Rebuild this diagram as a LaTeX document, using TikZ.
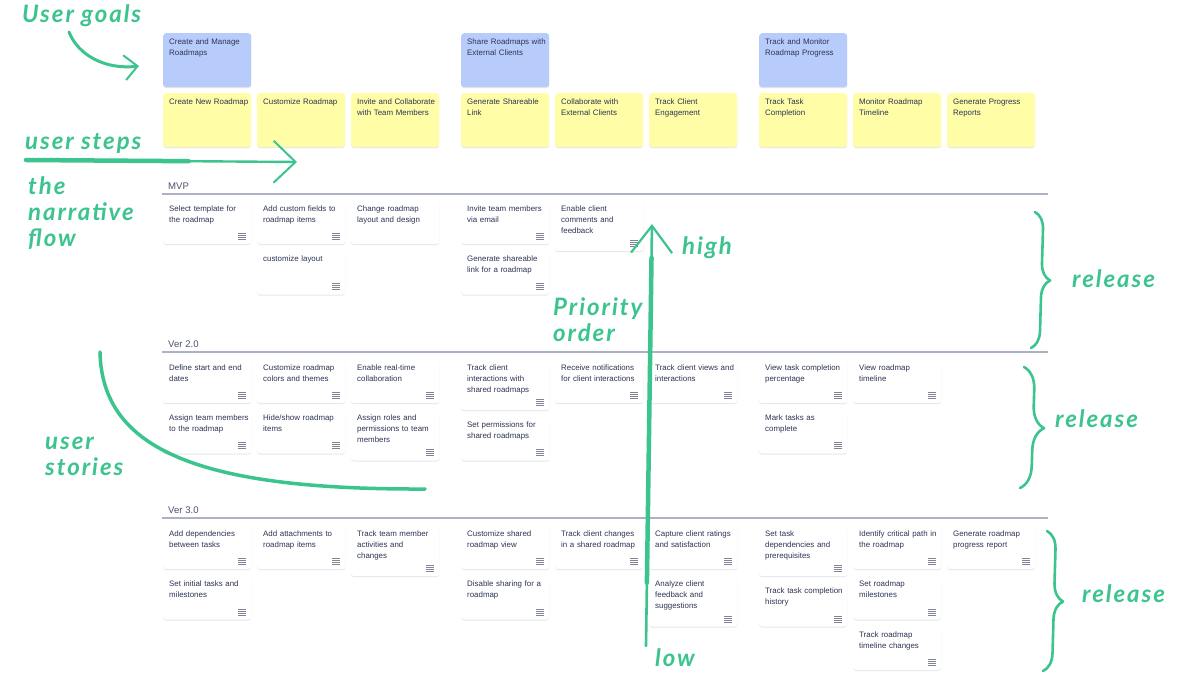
\documentclass[tikz,border=0pt]{standalone}
\usepackage{fontspec}
\setmainfont{Liberation Sans}
\newfontfamily\handfont{Lato}[LetterSpace=8]
\usetikzlibrary{arrows.meta, positioning, shadows, decorations.pathreplacing, calc}

\definecolor{inkblue}{RGB}{46,52,84}
\definecolor{goalblue}{RGB}{183,204,250}
\definecolor{stepyellow}{RGB}{255,253,166}
\definecolor{rulegray}{RGB}{172,177,198}
\definecolor{icongray}{RGB}{128,133,150}
\definecolor{markgreen}{RGB}{60,196,142}

\tikzset{
  card/.style={fill=white, rounded corners=3pt, anchor=north west,
    text width=84pt, inner xsep=2pt, inner ysep=4pt,
    execute at begin node={\leftskip=4pt\rightskip=0pt plus 1fil\parindent=0pt\relax},
    text height=7.3pt, text depth=28.7pt, text=inkblue,
    font=\fontsize{7.9}{11}\selectfont,
    drop shadow={shadow xshift=0pt, shadow yshift=-1pt, fill=rulegray, opacity=0.3}},
  card3/.style={card, text depth=35.7pt},
  goalcard/.style={card, fill=goalblue, text depth=38.7pt},
  stepcard/.style={card, fill=stepyellow, text depth=38.7pt},
  relline/.style={draw=rulegray, line width=1.1pt},
  rellabel/.style={anchor=base west, inner sep=0pt, text=inkblue!85,
    font=\fontsize{9.6}{11}\selectfont},
  menuline/.style={draw=icongray, line width=0.6pt},
  hand/.style={draw=markgreen, line width=3pt, line cap=round, line join=round},
  handtext/.style={anchor=base west, inner sep=0pt, text=markgreen,
    font=\handfont\bfseries\itshape\fontsize{24}{26}\selectfont},
  relbrace/.style={hand, line width=2.6pt, decorate, decoration={brace, amplitude=#1}}
}

\begin{document}
\begin{tikzpicture}[x=1pt, y=-1pt]
  \useasboundingbox (0,0) rectangle (1200,700);
  \fill[white] (0,0) rectangle (1200,700);

  % user goals
  \node[goalcard] (g1) at (163,33) {Create and Manage\\Roadmaps};
  \node[goalcard] (g4) at (461,33) {Share Roadmaps with\\External Clients};
  \node[goalcard] (g7) at (759,33) {Track and Monitor\\Roadmap Progress};

  % user steps
  \foreach \i/\txt in {1/{Create New Roadmap}, 2/{Customize Roadmap},
      3/{Invite and Collaborate\\with Team Members}, 4/{Generate Shareable\\Link},
      5/{Collaborate with\\External Clients}, 6/{Track Client\\Engagement},
      7/{Track Task\\Completion}, 8/{Monitor Roadmap\\Timeline},
      9/{Generate Progress\\Reports}}{
    \node[stepcard] (s\i) at ({163+94*(\i-1)+16*int((\i-1)/3)},93) {\txt};
  }

  % MVP
  \draw[relline] (162,194) -- (1048,194);
  \node[rellabel] (mvp) at (168,190) {MVP};
  \node[card] (mvp1a) at (163,200) {Select template for\\the roadmap};
  \node[card] (mvp2a) at (257,200) {Add custom fields to\\roadmap items};
  \node[card, below=6pt of mvp2a] (mvp2b) {customize layout};
  \node[card] (mvp3a) at (351,200) {Change roadmap\\layout and design};
  \node[card] (mvp4a) at (461,200) {Invite team members\\via email};
  \node[card, below=6pt of mvp4a] (mvp4b) {Generate shareable\\link for a roadmap};
  \node[card3] (mvp5a) at (555,200) {Enable client\\comments and\\feedback};

  % Ver 2.0
  \draw[relline] (162,352) -- (1048,352);
  \node[rellabel] (ver2) at (168,348) {Ver 2.0};
  \node[card] (two1a) at (163,359) {Define start and end\\dates};
  \node[card, below=6pt of two1a] (two1b) {Assign team members\\to the roadmap};
  \node[card] (two2a) at (257,359) {Customize roadmap\\colors and themes};
  \node[card, below=6pt of two2a] (two2b) {Hide/show roadmap\\items};
  \node[card] (two3a) at (351,359) {Enable real-time\\collaboration};
  \node[card3, below=6pt of two3a] (two3b) {Assign roles and\\permissions to team\\members};
  \node[card3] (two4a) at (461,359) {Track client\\interactions with\\shared roadmaps};
  \node[card, below=6pt of two4a] (two4b) {Set permissions for\\shared roadmaps};
  \node[card] (two5a) at (555,359) {Receive notifications\\for client interactions};
  \node[card] (two6a) at (649,359) {Track client views and\\interactions};
  \node[card] (two7a) at (759,359) {View task completion\\percentage};
  \node[card, below=6pt of two7a] (two7b) {Mark tasks as\\complete};
  \node[card] (two8a) at (853,359) {View roadmap\\timeline};

  % Ver 3.0
  \draw[relline] (162,518) -- (1048,518);
  \node[rellabel] (ver3) at (168,514) {Ver 3.0};
  \node[card] (three1a) at (163,525) {Add dependencies\\between tasks};
  \node[card, below=6pt of three1a] (three1b) {Set initial tasks and\\milestones};
  \node[card] (three2a) at (257,525) {Add attachments to\\roadmap items};
  \node[card3] (three3a) at (351,525) {Track team member\\activities and\\changes};
  \node[card] (three4a) at (461,525) {Customize shared\\roadmap view};
  \node[card, below=6pt of three4a] (three4b) {Disable sharing for a\\roadmap};
  \node[card] (three5a) at (555,525) {Track client changes\\in a shared roadmap};
  \node[card] (three6a) at (649,525) {Capture client ratings\\and satisfaction};
  \node[card3, below=6pt of three6a] (three6b) {Analyze client\\feedback and\\suggestions};
  \node[card3] (three7a) at (759,525) {Set task\\dependencies and\\prerequisites};
  \node[card, below=6pt of three7a] (three7b) {Track task completion\\history};
  \node[card] (three8a) at (853,525) {Identify critical path in\\the roadmap};
  \node[card, below=6pt of three8a] (three8b) {Set roadmap\\milestones};
  \node[card, below=6pt of three8b] (three8c) {Track roadmap\\timeline changes};
  \node[card] (three9a) at (947,525) {Generate roadmap\\progress report};

  % menu icons
  \foreach \n in {mvp1a,mvp2a,mvp2b,mvp4a,mvp4b,mvp5a,
      two1a,two1b,two2a,two2b,two3a,two3b,two4a,two4b,two5a,two6a,two7a,two7b,two8a,
      three1a,three1b,three2a,three3a,three4a,three4b,three5a,three6a,three6b,
      three7a,three7b,three8a,three8b,three8c,three9a}
    \foreach \k in {5,7,9,11}
      \draw[menuline] ([xshift=-13pt, yshift=\k pt]\n.south east) -- ++(8pt,0);

  % hand-drawn notes
  \node[handtext] (goalsLbl) at (22,23) {User goals};
  \coordinate (goalsTail) at (69,32);
  \coordinate (goalsHead) at (139,66);
  \draw[hand, -{Straight Barb[length=13pt, width=25pt, line width=2pt]}]
    (goalsTail) .. controls (78,55) and (105,70) .. (goalsHead);

  \node[handtext] (stepsLbl) at (25,150) {user steps};
  \coordinate (stepsTail) at (26,160);
  \coordinate (stepsHead) at (297,162);
  \draw[hand, line width=2.4pt, -{Straight Barb[length=22pt, width=42pt, line width=2pt]}]
    (stepsTail) -- (stepsHead);
  \draw[hand, line width=4.5pt] (stepsTail) -- ($(stepsTail)!0.6!(stepsHead)$);

  \node[handtext, align=left, anchor=north west] (flowLbl) at (28,176) {the\\narrative\\flow};

  \node[handtext, align=left, anchor=north west] (storiesLbl) at (45,437) {user\\stories};
  \coordinate (storiesTop) at (100,352);
  \coordinate (storiesEnd) at (425,489);
  \draw[hand, line width=3.5pt] (storiesTop) .. controls (102,450) and (200,490) .. (storiesEnd);

  \node[handtext, align=left, anchor=north west] (prioLbl) at (553,298) {Priority\\order};
  \coordinate (prioLow) at (646,646);
  \coordinate (prioHigh) at (652,224);
  \draw[hand, line width=2.6pt, -{Straight Barb[length=27pt, width=41pt, line width=2.2pt]}]
    (prioLow) -- (prioHigh);
  \draw[hand, line width=4.5pt] ($(prioLow)!0.15!(prioHigh)$) -- ($(prioLow)!0.92!(prioHigh)$);
  \node[handtext] (highLbl) at (682,255) {high};
  \node[handtext] (lowLbl) at (655,666) {low};

  % releases
  \draw[relbrace=17pt] (1035,212) -- (1031,348);
  \node[handtext] (relLbl1) at (1072,288) {release};
  \draw[relbrace=22pt] (1024,367) -- (1020,488);
  \node[handtext] (relLbl2) at (1055,428) {release};
  \draw[relbrace=18pt] (1047,531) -- (1043,671);
  \node[handtext] (relLbl3) at (1082,602) {release};
\end{tikzpicture}
\end{document}
